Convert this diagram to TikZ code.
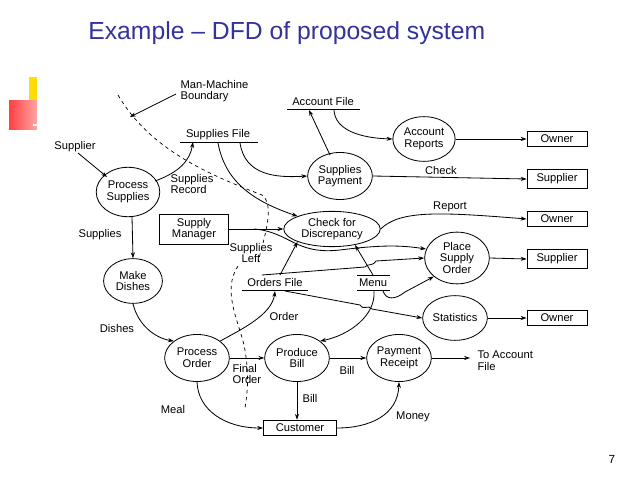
\documentclass[tikz,border=0pt]{standalone}
\usepackage{fontspec}
\setmainfont{Liberation Sans}
\usetikzlibrary{arrows.meta,shapes.geometric}
\definecolor{titleblue}{HTML}{333399}
\begin{document}
\begin{tikzpicture}[x=0.85pt,y=-0.85pt,
  proc/.style={draw,ellipse,inner sep=0pt,align=center,font=\fontsize{9.5}{10}\selectfont},
  ext/.style={draw,rectangle,align=center,font=\fontsize{9.5}{10}\selectfont},
  lbl/.style={align=center,font=\fontsize{9.5}{10}\selectfont,inner sep=1pt},
  lbll/.style={align=left,anchor=west,font=\fontsize{9.5}{10}\selectfont,inner sep=1pt},
  store/.style={font=\fontsize{9.5}{10}\selectfont,inner sep=1pt},
  flow/.style={-{Stealth[length=5pt,width=3.5pt]},line width=0.7pt},
  every path/.style={line width=0.7pt}]
\useasboundingbox (0,0) rectangle (638,479);
\fill[white] (0,0) rectangle (638,479);
% title & decoration
\node[anchor=west,text=titleblue,font=\fontsize{21}{24}\selectfont,inner sep=0] (title) at (88,33) {Example -- DFD of proposed system};
\node[font=\fontsize{10}{12}\selectfont] (pg) at (612,459) {7};
\fill[yellow!80!orange] (29,77) rectangle (37,108);
\shade[left color=red!75, right color=red!35] (9,101) rectangle (37,130);
\fill[white] (33,124) rectangle (37,126);
% boundary
\draw[dashed,line width=0.6pt] (118,95) .. controls (150,150) and (210,175) .. (262,195) .. controls (275,205) and (265,235) .. (258,262);
\draw[dashed,line width=0.6pt] (238,266) .. controls (222,290) and (238,320) .. (244,345) .. controls (250,375) and (247,395) .. (245,408);
\node[lbll] (mmb) at (179,91) {Man-Machine\\Boundary};
\coordinate (bpt) at (130,117);
\draw[flow] (176,94) -- (bpt);
% processes
\node[proc,minimum width=54pt,minimum height=42pt] (ps) at (128,192) {Process\\Supplies};
\node[proc,minimum width=50pt,minimum height=38pt] (md) at (133,281) {Make\\Dishes};
\node[proc,minimum width=55pt,minimum height=40pt] (po) at (197,358) {Process\\Order};
\node[proc,minimum width=55pt,minimum height=40pt] (pb) at (297,358) {Produce\\Bill};
\node[proc,minimum width=55pt,minimum height=40pt] (pr) at (399,358) {Payment\\Receipt};
\node[proc,minimum width=55pt,minimum height=38pt] (st) at (455,318) {Statistics};
\node[proc,minimum width=55pt,minimum height=44pt] (pso) at (457,258) {Place\\Supply\\Order};
\node[proc,minimum width=82pt,minimum height=30pt] (cd) at (332,229) {Check for\\Discrepancy};
\node[proc,minimum width=55pt,minimum height=40pt] (sp) at (340,176) {Supplies\\Payment};
\node[proc,minimum width=53pt,minimum height=38pt] (ar) at (424,139) {Account\\Reports};
% externals
\node[ext,minimum width=51pt,minimum height=13pt] (o1) at (557,139) {Owner};
\node[ext,minimum width=51pt,minimum height=13pt] (s1) at (557,179) {Supplier};
\node[ext,minimum width=51pt,minimum height=13pt] (o2) at (557,219) {Owner};
\node[ext,minimum width=51pt,minimum height=13pt] (s2) at (557,259) {Supplier};
\node[ext,minimum width=51pt,minimum height=13pt] (o3) at (557,318) {Owner};
\node[ext,minimum width=58pt,minimum height=19pt] (sm) at (194,229) {Supply\\Manager};
\node[ext,minimum width=62pt,minimum height=13pt] (cu) at (300,428) {Customer};
% stores
\node[store] (af) at (323,102) {Account File};
\draw (287,109) -- (360,109);
\node[store] (sf) at (218,135) {Supplies File};
\draw (180,142) -- (258,142);
\node[store] (of) at (275,283) {Orders File};
\draw (242,290) -- (308,290);
\node[store] (mn) at (373,283) {Menu};
\draw (357,275) -- (390,275); \draw (357,290) -- (390,290);
% free coordinates
\coordinate (supin) at (78,153);
\coordinate (toacc) at (470,358);
\node[lbl] at (75,147) {Supplier};
\node[lbll] at (476,361) {To Account\\File};
% flows
\draw[flow] (supin) -- (107,177);
\draw[flow] (155,181) .. controls (180,172) and (190,160) .. (193,142);
\node[lbll] at (169,184) {Supplies\\Record};
\draw[flow] (132,217) -- (md.north);
\node[lbl] at (100,235) {Supplies};
\draw[flow] (md.south) .. controls (138,325) and (155,338) .. (po.north west);
\node[lbl] at (117,329) {Dishes};
\draw[flow] (po.north east) .. controls (240,330) and (272,315) .. (275,291);
\node[lbl] at (284,317) {Order};
\draw[flow] (po.east) -- (pb.west);
\node[lbll] at (231,374) {Final\\Order};
\draw[flow] (pb.east) -- (pr.west);
\node[lbl] at (347,370) {Bill};
\draw[flow] (pr.east) -- (toacc);
\draw[flow] (pb.south) -- (pb.south |- cu.north);
\node[lbl] at (310,398) {Bill};
\draw[flow] (po.south) .. controls (198,410) and (225,428) .. (cu.west);
\node[lbl] at (173,410) {Meal};
\draw[flow] (cu.east) .. controls (370,428) and (398,415) .. (pr.south);
\node[lbl] at (413,417) {Money};
\draw[flow] (374,291) .. controls (376,315) and (350,335) .. (pb.north east);
\draw[flow] (285,291) -- (360,305) .. controls (364,311) and (368,304) .. (372,309) -- (st.west);
\draw[flow] (st.east) -- (o3.west);
\draw[flow] (383,291) .. controls (386,300) and (395,300) .. (405,292) -- (pso.south west);
\draw[flow] (262,275) -- (365,267) .. controls (368,263) and (372,267) .. (376,261) -- (pso.west);
\draw[flow] (sm.east) -- (cd.west);
\draw[flow] (254,229) .. controls (290,232) and (295,255) .. (340,250) .. controls (380,245) and (400,245) .. (426,249);
\draw[flow] (280,275) -- (cd.south west);
\draw[flow] (373,275) -- (355,245);
\draw[flow] (218,143) .. controls (225,180) and (250,200) .. (cd.north west);
\draw[flow] (240,143) .. controls (245,175) and (275,178) .. (sp.west);
\draw[flow] (cd.east) .. controls (400,210) and (440,212) .. (o2.west);
\node[lbl] at (450,207) {Report};
\draw[flow] (pso.east) -- (s2.west);
\draw[flow] (sp.east) -- (s1.west);
\node[lbl] at (441,171) {Check};
\draw[flow] (330,155) -- (309,110);
\draw[flow] (334,110) .. controls (335,130) and (360,138) .. (ar.west);
\draw[flow] (ar.east) -- (o1.west);
\node[lbl] at (251,253) {Supplies\\Left};
\end{tikzpicture}
\end{document}
